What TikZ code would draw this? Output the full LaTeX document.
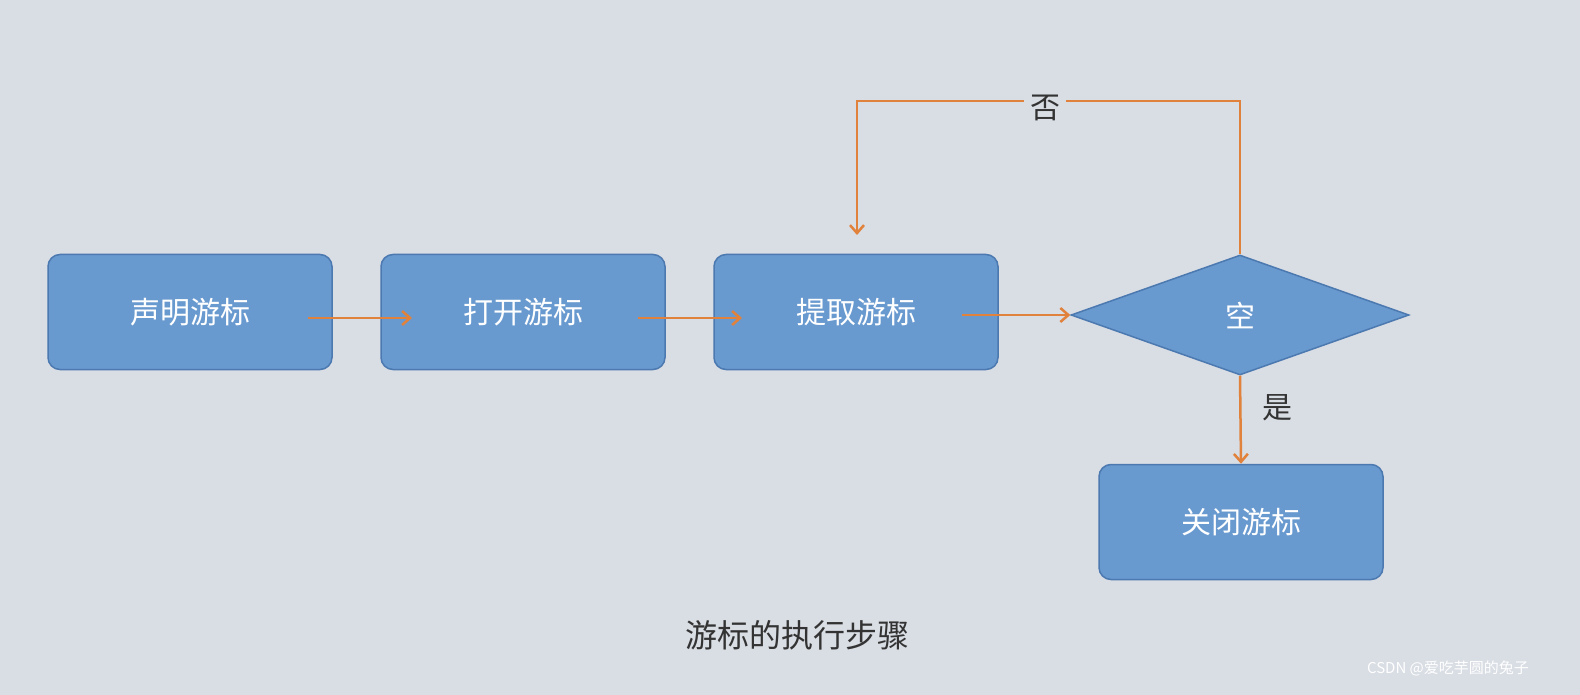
\documentclass[tikz,border=0pt]{standalone}
\usepackage{fontspec}
\setmainfont{Noto Sans CJK SC}
\usetikzlibrary{shapes.geometric,arrows.meta}
\definecolor{bg}{HTML}{D9DDE4}
\definecolor{bfill}{HTML}{6899CF}
\definecolor{bdraw}{HTML}{4B79B0}
\definecolor{arr}{HTML}{E0823C}
\begin{document}
\begin{tikzpicture}[x=1pt,y=-1pt,
  stepbox/.style={draw=bdraw,line width=1.5pt,fill=bfill,rounded corners=12pt,minimum width=284pt,minimum height=115pt,text=white,font=\fontsize{30}{34}\selectfont},
  arrow/.style={draw=arr,line width=2.5pt,-{Straight Barb[length=8pt,width=14pt]}},
  lbl/.style={font=\fontsize{30}{34}\selectfont,text=black!80}]
\fill[bg] (0,0) rectangle (1580,695);
\node[stepbox] (a) at (190,312) {声明游标};
\node[stepbox] (b) at (523,312) {打开游标};
\node[stepbox] (c) at (856,312) {提取游标};
\node[diamond,aspect=2.8,draw=bdraw,line width=1.5pt,fill=bfill,inner sep=0pt,minimum width=338pt,minimum height=120pt,text=white,font=\fontsize{30}{34}\selectfont] (d) at (1240,315) {空};
\node[stepbox] (e) at (1241,522) {关闭游标};
\coordinate (a1) at (308,318); \coordinate (b0) at (412,318);
\coordinate (b1) at (638,318); \coordinate (c0) at (742,318);
\coordinate (c1) at (962,315);
\draw[arrow] (a1) -- (b0);
\draw[arrow] (b1) -- (c0);
\draw[arrow] (c1) -- (d.west);
\coordinate (t1) at (1240,101); \coordinate (t2) at (857,101); \coordinate (t3) at (857,235);
\draw[arrow] (d.north) -- (t1) -- (t2) -- (t3);
\node[lbl,fill=bg,inner sep=6pt] (no) at (1045,108) {否};
\draw[arrow] (d.south) -- (e.north);
\node[lbl] (yes) at (1277,408) {是};
\node[lbl,font=\fontsize{32}{36}\selectfont] (cap) at (797,635) {游标的执行步骤};
\node[text=white,font=\fontsize{15}{18}\selectfont] (wm) at (1448,668) {CSDN @爱吃芋圆的兔子};
\end{tikzpicture}
\end{document}
